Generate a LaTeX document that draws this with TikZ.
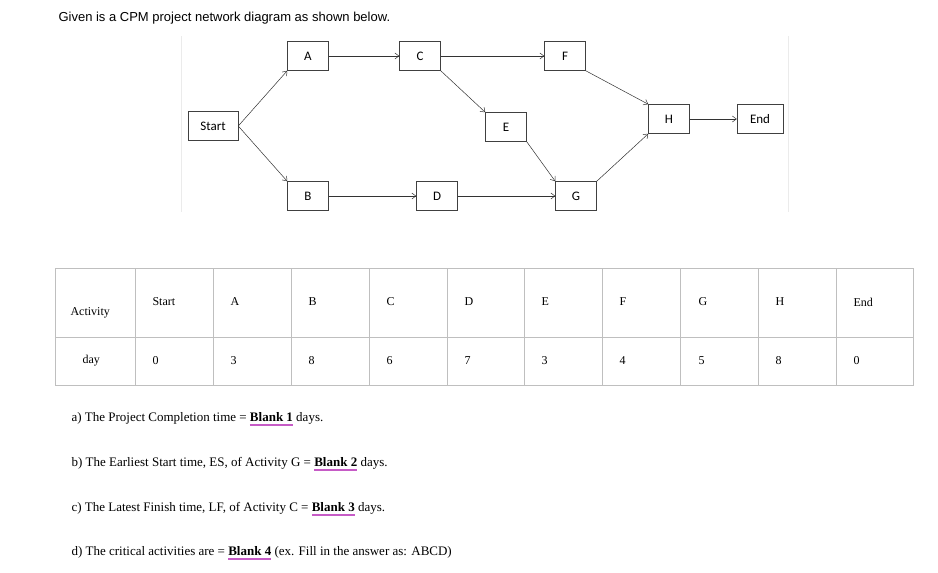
\documentclass[tikz,border=0pt]{standalone}
\usepackage{fontspec}
\setmainfont{Liberation Serif}
\newfontfamily\arial{Liberation Sans}
\newfontfamily\calfont{Carlito}
\usetikzlibrary{arrows.meta}
\definecolor{blk}{HTML}{C65BC6}
\newcommand{\blank}[1]{\setbox0\hbox{\textbf{#1}}\copy0\llap{\color{blk}\rule[-4pt]{\wd0}{1.3pt}}}
\begin{document}
\begin{tikzpicture}[x=1pt,y=-1pt,
  act/.style={draw=black!75,line width=0.5pt,minimum width=41pt,minimum height=29pt,inner sep=0pt,font=\calfont\fontsize{13}{13}\selectfont},
  arr/.style={draw=black!80,line width=0.5pt,-{Straight Barb[length=4pt,width=6pt]}},
  cell/.style={font=\fontsize{12}{12}\selectfont,anchor=west},
  q/.style={font=\fontsize{13}{13}\selectfont,anchor=west}]
\useasboundingbox (0,0) rectangle (938,573);
\fill[white] (0,0) rectangle (938,573);
\node[anchor=west,font=\arial\fontsize{13}{13}\selectfont] (title) at (55,18) {Given is a CPM project network diagram as shown below.};
\draw[black!8,line width=1pt] (181,36) -- (181,212);
\draw[black!8,line width=1pt] (788,36) -- (788,212);
\node[act,minimum width=50pt] (S) at (213,126) {Start};
\node[act] (A) at (308,56) {A};
\node[act] (B) at (308,196) {B};
\node[act] (C) at (420,56) {C};
\node[act] (D) at (437,196) {D};
\node[act] (E) at (506,127) {E};
\node[act] (F) at (565,56) {F};
\node[act] (G) at (576,196) {G};
\node[act] (H) at (669,119) {H};
\node[act,minimum width=46pt] (End) at (760,119) {End};
\draw[arr] (S.east) -- (A.south west);
\draw[arr] (S.east) -- (B.north west);
\draw[arr] (A) -- (C);
\draw[arr] (C) -- (F);
\draw[arr] (C.south east) -- (E.north west);
\draw[arr] (B) -- (D);
\draw[arr] (D) -- (G);
\draw[arr] (E.south east) -- (G.north west);
\draw[arr] (F.south east) -- (H.north west);
\draw[arr] (G.north east) -- (H.south west);
\draw[arr] (H) -- (End);
% table
\draw[black!25,line width=0.8pt] (55,268) rectangle (913,385);
\draw[black!25,line width=0.8pt] (55,337) -- (913,337);
\foreach \x in {135,213,291,369,447,524,602,680,758,836} \draw[black!25,line width=0.8pt] (\x,268) -- (\x,385);
\node[cell] (act) at (67,313) {Activity};
\node[cell] (day) at (79,361) {day};
\foreach \n/\x/\v in {Start/149/0,A/227/3,B/305/8,C/383/6,D/461/7,E/538/3,F/616/4,G/695/5,H/772/8,End/850/0}{
  \node[cell] (h\n) at (\x,302) {\n};
  \node[cell] (v\n) at (\x,361) {\v};}
\node[q] (qa) at (68,419) {a) The Project Completion time = \blank{Blank 1} days.};
\node[q] (qb) at (68,464) {b) The Earliest Start time, ES, of Activity G = \blank{Blank 2} days.};
\node[q] (qc) at (68,509) {c) The Latest Finish time, LF, of Activity C = \blank{Blank 3} days.};
\node[q] (qd) at (68,553) {d) The critical activities are = \blank{Blank 4} (ex. Fill in the answer as: ABCD)};
\end{tikzpicture}
\end{document}
